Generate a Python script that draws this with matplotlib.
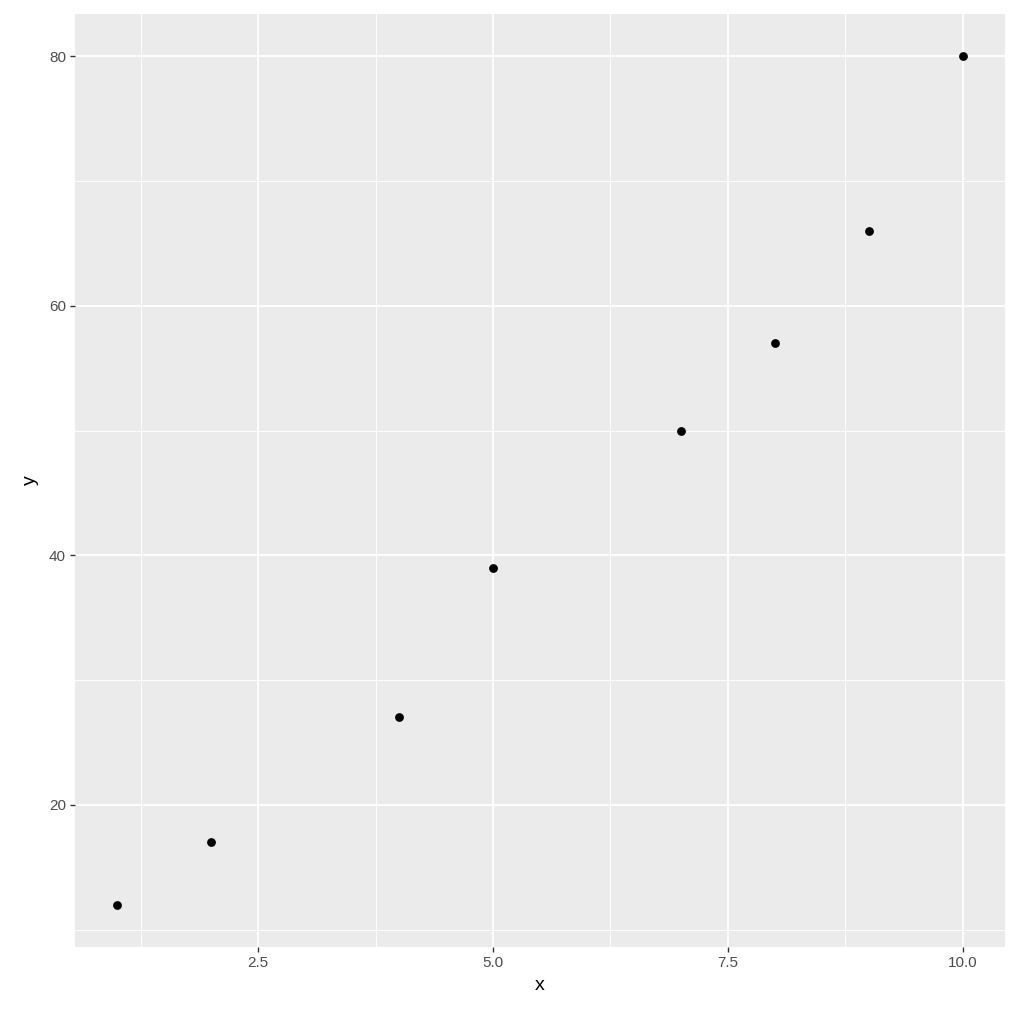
import matplotlib
matplotlib.use('Agg')
import matplotlib.pyplot as plt

plt.rcParams['font.family'] = ['Liberation Sans', 'DejaVu Sans']

x_vals = [1, 2, 4, 5, 7, 8, 9, 10]
y_vals = [12, 17, 27, 39, 50, 57, 66, 80]
x_ticks = [2.5, 5.0, 7.5, 10.0]
y_ticks = [20, 40, 60, 80]

fig = plt.figure(figsize=(10.24, 10.1), dpi=100)
ax = fig.add_axes([75/1024, 63/1010, 930/1024, 933/1010])
ax.set_facecolor('#EBEBEB')

# ggplot style 5% expansion
xr = max(x_vals) - min(x_vals)
yr = max(y_vals) - min(y_vals)
ax.set_xlim(min(x_vals) - 0.05*xr, max(x_vals) + 0.05*xr)
ax.set_ylim(min(y_vals) - 0.05*yr, max(y_vals) + 0.05*yr)

ax.set_xticks(x_ticks)
ax.set_xticklabels(['2.5', '5.0', '7.5', '10.0'])
ax.set_yticks(y_ticks)
ax.set_xticks([1.25, 3.75, 6.25, 8.75], minor=True)
ax.set_yticks([10, 30, 50, 70], minor=True)

ax.grid(which='major', color='white', linewidth=1.3)
ax.grid(which='minor', color='white', linewidth=0.65)
ax.set_axisbelow(True)
for s in ax.spines.values():
    s.set_visible(False)
ax.tick_params(which='major', length=3.5, color='#333333', labelcolor='#4D4D4D',
               labelsize=11, width=1, pad=3)
ax.tick_params(which='minor', length=0)

ax.scatter(x_vals, y_vals, s=40, color='black', zorder=3, linewidths=0)
ax.set_xlabel('x', fontsize=14, labelpad=5)
ax.set_ylabel('y', fontsize=14, labelpad=7)

fig.savefig('out.png', dpi=100)
